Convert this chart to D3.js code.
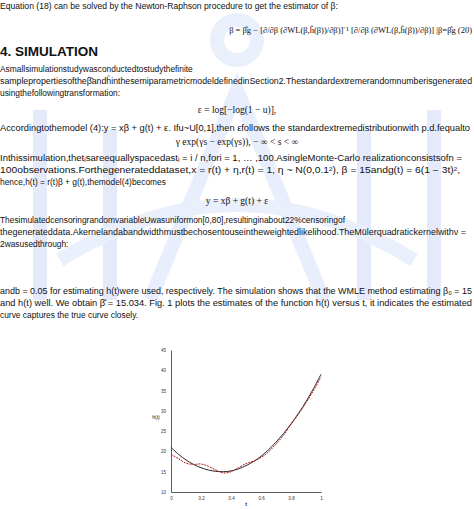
<!DOCTYPE html>
<html><head><meta charset="utf-8">
<script src="https://cdn.jsdelivr.net/npm/d3@7"></script>
<style>
body{margin:0;background:#fff;}
svg{display:block;}
</style></head><body>
<svg id="c" width="474" height="509"></svg>
<script>
const tValues=[0,0.05,0.1,0.15,0.2,0.25,0.3,0.35,0.4,0.45,0.5,0.55,0.6,0.65,0.7,0.75,0.8,0.85,0.9,0.95,1];
const trueH=[21,19.3,17.9,16.8,16,15.4,15.1,15,15.2,15.7,16.5,17.5,18.8,20.4,22.3,24.4,26.8,29.4,32.3,35.5,39];
const estH=[19.3,18.2,17.1,16.8,16.9,16.3,15.4,14.7,15,16,17,17.6,18.5,19.9,21.8,24,26.7,29.2,32,35,38.3];
const yTicks=[10,15,20,25,30,35,40,45];
const xTicks=[0,0.2,0.4,0.6,0.8,1];
const xTickLabels=["0","0.2","0.4","0.6","0.8","1"];

const svg=d3.select("#c");
const wm=svg.append("g").attr("fill","none").attr("stroke","#dfe6fb").attr("stroke-width",14).attr("opacity",0.8);
wm.append("path").attr("d","M40,300 L40,110 M110,300 L110,130 M364,300 L364,130 M434,300 L434,110");
wm.append("path").attr("d","M150,300 L237,90 L324,300").attr("stroke","#e3eafc");
wm.append("circle").attr("cx",237).attr("cy",40).attr("r",20).attr("stroke","#e6ecfc");
wm.append("path").attr("d","M60,260 Q237,150 414,260").attr("stroke","#e6ecfc");

const txt=(x,y,s,o={})=>svg.append("text").attr("x",x).attr("y",y).text(s)
  .attr("font-family",o.f||"Liberation Sans, Arial, sans-serif").attr("font-size",o.size||8.6)
  .attr("font-weight",o.w||"normal").attr("font-style",o.i||"normal").attr("text-anchor",o.a||"start").attr("fill","#111")
  .attr("textLength",o.len||null).attr("lengthAdjust","spacingAndGlyphs");
const serif="Liberation Serif, serif";
txt(0,9,"Equation (18) can be solved by the Newton-Raphson procedure to get the estimator of β:");
txt(472,33,"β  = β̂g − [∂/∂β (∂WL(β,ĥ(β))/∂β)]⁻¹ [∂/∂β (∂WL(β,ĥ(β))/∂β)] |β=β̂g (20)",{a:"end",f:serif,size:8.5});
txt(0,56,"4. SIMULATION",{w:"bold",size:13.5});
txt(0,72,"Asmallsimulationstudywasconductedtostudythefinite",{size:8.4});
txt(0,84,"samplepropertiesoftheβ̂andĥinthesemiparametricmodeldefinedinSection2.Thestandardextremerandomnumberisgenerated",{size:8.4,len:472});
txt(0,96,"usingthefollowingtransformation:",{size:8.4});
txt(237,113,"ε = log[−log(1 − u)],",{a:"middle",f:serif,size:9.5});
txt(0,131,"Accordingtothemodel (4):y = xβ + g(t) + ε. Ifu~U[0,1],then εfollows the standardextremedistributionwith p.d.fequalto",{size:8.4,len:470});
txt(237,145,"γ exp(γs − exp(γs)),      − ∞ < s < ∞",{a:"middle",f:serif,size:9.5});
txt(0,161,"Inthissimulation,thetᵢsareequallyspacedastᵢ = i / n,fori = 1, … ,100.AsingleMonte-Carlo realizationconsistsofn =",{size:8.4,len:462});
txt(0,173,"100observations.Forthegenerateddataset,x = r(t) + η,r(t) = 1, η ~ N(0,0.1²), β = 15andg(t) = 6(1 − 3t)²,",{size:8.4,len:460});
txt(0,185,"hence,h(t) = r(t)β + g(t),themodel(4)becomes",{size:8.4});
txt(237,204,"y = xβ + g(t) + ε",{a:"middle",f:serif,size:9.5});
txt(0,223,"ThesimulatedcensoringrandomvariableUwasuniformon[0,80],resultinginabout22%censoringof",{size:8.4});
txt(0,235,"thegenerateddata.Akernelandabandwidthmustbechosentouseintheweightedlikelihood.TheMülerquadratickernelwithν =",{size:8.4,len:466});
txt(0,247,"2wasusedthrough:",{size:8.4});
txt(0,294,"andb = 0.05 for estimating h(t)were used, respectively. The simulation shows that the WMLE method estimating β₀ = 15",{size:8.4,len:472});
txt(0,306,"and h(t) well. We obtain β̂ = 15.034.  Fig. 1 plots the estimates of the function h(t) versus t, it indicates the estimated",{size:8.4,len:472});
txt(0,318,"curve captures the true curve closely.",{size:8.4});

const x=d3.scaleLinear().domain([0,1]).range([171,321]);
const y=d3.scaleLinear().domain([10,45]).range([492,350]);
const ax=svg.append("g").attr("font-family","Liberation Sans, sans-serif");
ax.append("g").attr("transform","translate(0,492)").call(d3.axisBottom(x).tickValues(xTicks).tickFormat((d,i)=>xTickLabels[i]).tickSize(0).tickPadding(5))
  .call(g=>{g.select(".domain").attr("stroke","#333").attr("stroke-width",0.8);g.selectAll("text").attr("font-size",4.5).attr("fill","#333");});
ax.append("g").attr("transform","translate(171,0)").call(d3.axisLeft(y).tickValues(yTicks).tickSize(0).tickPadding(5))
  .call(g=>{g.select(".domain").attr("stroke","#333").attr("stroke-width",0.8);g.selectAll("text").attr("font-size",4.5).attr("fill","#333");});
txt(246,506,"t",{a:"middle",size:5,w:"bold"});
txt(156,419,"h(t)",{a:"middle",size:5});
const line=d3.line().x((d,i)=>x(tValues[i])).y(d=>y(d)).curve(d3.curveCatmullRom);
svg.append("path").datum(trueH).attr("d",line).attr("fill","none").attr("stroke","#111").attr("stroke-width",0.9);
svg.append("path").datum(estH).attr("d",line).attr("fill","none").attr("stroke","#b01818").attr("stroke-width",1).attr("stroke-dasharray","2,1");
</script></body></html>
